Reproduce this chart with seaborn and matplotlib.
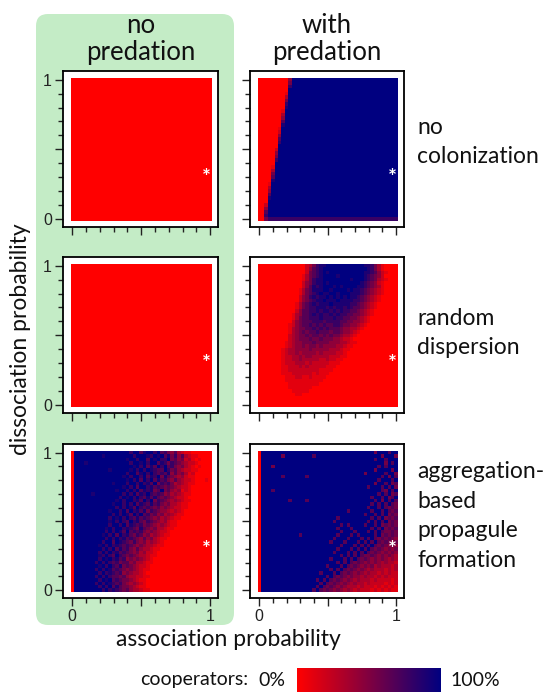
import numpy as np
import matplotlib
matplotlib.use("Agg")
import matplotlib.pyplot as plt
import seaborn as sns
from matplotlib.colors import LinearSegmentedColormap
from matplotlib.patches import FancyBboxPatch

# fraction of cooperators, rows = dissociation 1 -> 0, cols = association 0 -> 1
# digits 0..9 mean 0% .. 100%; a short row keeps its last digit to the right edge
n_cells = 41

col_titles = ["no\npredation", "with\npredation"]
row_titles = ["no\ncolonization", "random\ndispersion",
              "aggregation-\nbased\npropagule\nformation"]

# no predation, no colonization / random dispersion: no cooperators at all
tl_rows = ["0"] * n_cells
ml_rows = ["0"] * n_cells

tr_rows = [
    "0000000004999",
    "0000000005999",
    "0000000007999",
    "0000000009999",
    "000000001999",
    "000000003999",
    "000000005999",
    "000000007999",
    "000000008999",
    "00000001999",
    "00000003999",
    "00000004999",
    "00000006999",
    "00000008999",
    "0000001999",
    "0000002999",
    "0000004999",
    "0000006999",
    "0000007999",
    "0000009999",
    "000002999",
    "000004999",
    "000005999",
    "000007999",
    "000009999",
    "00001999",
    "00003999",
    "00005999",
    "00006999",
    "00008999",
    "0001999",
    "0003999",
    "0004999",
    "0006999",
    "0008999",
    "0009999",
    "002999",
    "004999",
    "006999",
    "007999",
    "0057777777777777777777777777777777777777778",
]

mr_rows = [
    "00000000000000235788999999999998875310000",
    "00000000000000246789999999999999875310000",
    "00000000000000256789899999999998876421000",
    "00000000000001356789999899999998765420000",
    "00000000000001357889999999989998765321000",
    "00000000000002457889899999999987654210000",
    "00000000000002468789998989999887654310000",
    "00000000000013568889989999898876543210000",
    "00000000000013567898899899988876543210000",
    "00000000000024578788989898988765432100000",
    "00000000000024567889888988887765432100000",
    "00000000000135678788898888877654321000000",
    "00000000000135677888787887876654321000000",
    "00000000000246677878878787766543210000000",
    "00000000001346678787787877665543210000000",
    "00000000001356677787778776655432100000000",
    "00000000002456667776777766554432100000000",
    "00000000012456676767667765544321000000000",
    "00000000013455667676766654433210000000000",
    "00000000013456566766656654432100000000000",
    "00000000023455656656565543321000000000000",
    "00000000023455565565554432210000000000000",
    "00000000123445556555544433211000000000000",
    "00000000123445455454444332110000000000000",
    "00000001233444454444433321100000000000000",
    "00000001233434444343333221000000000000000",
    "00000001223343443333322211000000000000000",
    "00000001223343333322322110000000000000000",
    "00000001222333232222211100000000000000000",
    "00000001122232322222111000000000000000000",
    "00000001122222222211110000000000000000000",
    "00000001112222221211100000000000000000000",
    "00000000111221121111000000000000000000000",
    "00000000111111111110000000000000000000000",
    "00000000011111111100000000000000000000000",
    "00000000011111110000000000000000000000000",
    "00000000001111100000000000000000000000000",
    "00000000000110000000000000000000000000000",
    "0",
    "0",
    "0",
]

bl_rows = [
    "0999999999999999979968997967546321100000000",
    "0999999998999999997999879896857463211000000",
    "0999999999999999899799698977956452310100000",
    "0999899999999999979989799687576543221000000",
    "0999999999999999998979686979675453210100000",
    "0999999999989999989797987669756432211000000",
    "0999999999999999799689797676846453120000000",
    "0999999999999998979979687958654342110000000",
    "0999999999999999897969796867546432210001000",
    "0999999999998999799797869576753432110000000",
    "099999999999999897969978676565432210000000",
    "099999999999989979796878569564341210000000",
    "099999899999999797968797676453432110000000",
    "099999999999997989797686865654322100000000",
    "099999999999989799786979576543432110000000",
    "099999999999899797968768675453321100000000",
    "099999999999979798697676564543221100000000",
    "099999999998997969786857654432321000000000",
    "099999999999797986979675645343211000000000",
    "099999999997989797686765453432110000000000",
    "099999999998979769786576543421100000000000",
    "099999999997997968767565434321100000000000",
    "099999999989799787658654533211000000000000",
    "099999999979798696767545432210000000000000",
    "099999999897969786576453432110000000000000",
    "099999999979797867654645321100000000000000",
    "099999999799698765754534321000000000000000",
    "099999998979787676545433211000000000000000",
    "099999999797968675464332110000000000000000",
    "099999997979786765453422100000000000000000",
    "099999998797697656543321100000000000000000",
    "099999997989786745454321000000000000000000",
    "099999979797675664533211000000000000000000",
    "099999998979768565432210000000000000000000",
    "099999979798676545432110000000000000000000",
    "099999997978767454332100000000000000000000",
    "099999979797665643322110000000000000000000",
    "099999997989676554321100000000000000000000",
    "099999979798767543432100000000000000000000",
    "099999997979686554321100000000000000000000",
    "099999999797876564332110000000000000000000",
]

br_rows = [
    "0999999999999999999999999999999999599969996",
    "0999999599999999699999999999999999995999599",
    "0999999999999999999999999999999999699699969",
    "0999999999999999999999999999999999999596959",
    "0999599999999999999999999999999999969699969",
    "0999999999999999999999999999999999599995996",
    "0999999999999999999999999999999599999699569",
    "0999999699999969999999999999999999996959696",
    "0999999999999999999999999999999999969996959",
    "0999999999999999999999999999999999599695696",
    "0999999999999999999999999999999969996969569",
    "0999699999999999999999999999999999996596966",
    "0999999999999999999999999999999999969695695",
    "0999999999999999999999999999999996996956966",
    "0999999996999969999999999999999999695969656",
    "0999999999999999999999999999999996969696565",
    "0999999999999999999999999999999969969656566",
    "0999999999999999999999999969999996996965656",
    "0999999999999999999999999999999699696956565",
    "0999999999999999999999969999999996969565656",
    "0999999999999999999999699999999969696956556",
    "0999999999999999999999996969999699695656565",
    "0999999999999999999999969996999996969565655",
    "0999999999999999999999996999699969696556564",
    "0999999999996999999999969996969999695656545",
    "0999999999999999999999699969996969656565454",
    "0999999999999999999996999699969696965654545",
    "0999999999999999999999996999696969656545444",
    "0999999999999999999999969996969696565454543",
    "0999999999999999999999699969696965654545434",
    "0999999999999999999999996969696556545454343",
    "0999999999999999999996999696965654545434333",
    "0999999999999999999999969696565454543433232",
    "0999999999999999999969996965654545343332323",
    "0999999999999999999996969656545434333232322",
    "0999999999999999996999696565454343323232222",
    "0999999999999999999969656545443433232322212",
    "0999999999999999969696565454343332322221221",
    "0999999999999999996965654543433232222121212",
    "0999999999999999969656545433323222121212112",
    "0999999999999999696565454343232221212121111",
]


def to_grid(rows):
    out = []
    for s in rows:
        s = (s + s[-1] * n_cells)[:n_cells]
        out.append([int(c) / 9 for c in s])
    return np.array(out)


panels = [[to_grid(tl_rows), to_grid(tr_rows)],
          [to_grid(ml_rows), to_grid(mr_rows)],
          [to_grid(bl_rows), to_grid(br_rows)]]

W, H = 556, 700
plt.rcParams['font.family'] = ['Lato', 'DejaVu Sans']
cmap = LinearSegmentedColormap.from_list("coop", ["#ff0000", "#000080"])

fig = plt.figure(figsize=(W / 100, H / 100), dpi=100)
fig.patch.set_facecolor("white")


def px_axes(x0, y0, x1, y1, **kw):
    return fig.add_axes([x0 / W, 1 - y1 / H, (x1 - x0) / W, (y1 - y0) / H], **kw)


# background layer in pixel coordinates
bg = px_axes(0, 0, W, H, zorder=-1)
bg.set_xlim(0, W)
bg.set_ylim(H, 0)
bg.axis("off")
bg.add_patch(FancyBboxPatch((36, 14), 198, 611,
                            boxstyle="round,pad=0,rounding_size=12",
                            facecolor="#c4ecc6", edgecolor="none"))

col_x = [(63, 218), (250, 404)]
row_y = [(71, 227), (257, 413), (444, 598)]
label_y = [142, 333, 516]

mappable = None
for i, (y0, y1) in enumerate(row_y):
    for j, (x0, x1) in enumerate(col_x):
        ax = px_axes(x0, y0, x1, y1)
        sns.heatmap(panels[i][j], ax=ax, cmap=cmap, vmin=0, vmax=1,
                    cbar=False, xticklabels=False, yticklabels=False)
        mappable = ax.collections[0]
        ax.set_facecolor("white")
        ax.set_xlim(-2.2, n_cells + 1.8)
        ax.set_ylim(n_cells + 1.8, -2.0)
        for sp in ax.spines.values():
            sp.set_visible(True)
            sp.set_color("black")
            sp.set_linewidth(1.3)
        ticks = [0.5, 20.5, 40.5]
        minor = [0.5 + 4 * k for k in range(11)]
        ax.set_xticks(ticks)
        ax.set_yticks(ticks)
        ax.set_xticks(minor, minor=True)
        ax.set_yticks(minor, minor=True)
        ax.set_xticklabels(["0", "", "1"] if i == 2 else ["", "", ""])
        ax.set_yticklabels(["1", "", "0"] if j == 0 else ["", "", ""])
        ax.tick_params(which="major", length=6, width=1, color="#222222",
                       labelsize=11.5, labelcolor="#222222", pad=2)
        ax.tick_params(which="minor", length=3.5, width=1, color="#222222")
        for lab in ax.get_xticklabels() + ax.get_yticklabels():
            lab.set_family(["Liberation Sans", "DejaVu Sans"])
            lab.set_rotation(0)
        ax.text(39.3, 28.7, "*", color="white", fontsize=15, fontweight="bold",
                ha="center", va="center")

for j, (x0, x1) in enumerate(col_x):
    bg.text((x0 + x1) / 2, 39, col_titles[j], fontsize=18.5, ha="center",
            va="center", linespacing=1.1, color="#111111")

for i in range(len(row_y)):
    bg.text(417, label_y[i], row_titles[i], fontsize=16.5, ha="left",
            va="center", linespacing=1.5, color="#111111")

bg.text(21, 339, "dissociation probability", fontsize=16.5, rotation=90,
        ha="center", va="center", color="#111111")
bg.text(228, 640, "association probability", fontsize=16.5, ha="center",
        va="center", color="#111111")

cax = px_axes(297, 668, 441, 692)
cb = fig.colorbar(mappable, cax=cax, orientation="horizontal")
cb.set_ticks([])
cb.outline.set_visible(False)
bg.text(248, 680, "cooperators:", fontsize=14, ha="right", va="center",
        color="#111111")
bg.text(258, 680, "0%", fontsize=14, ha="left", va="center", color="#111111")
bg.text(450, 680, "100%", fontsize=14, ha="left", va="center", color="#111111")

fig.savefig("out.png", dpi=100)
